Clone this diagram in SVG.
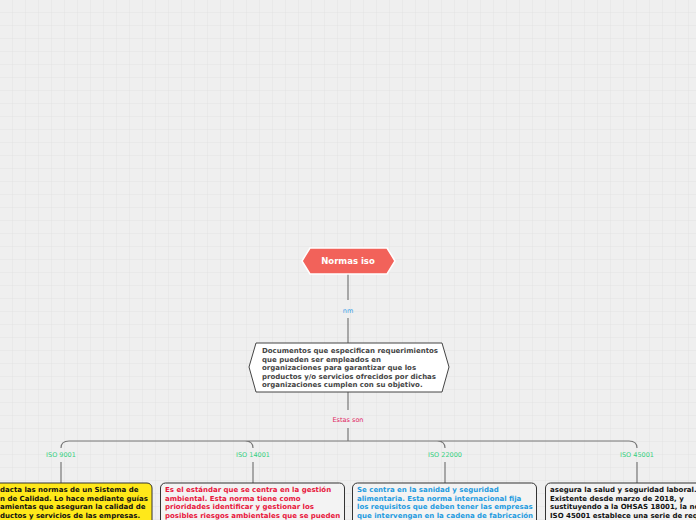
<svg xmlns="http://www.w3.org/2000/svg" width="696" height="520" viewBox="0 0 696 520">
<defs>
<pattern id="g" width="13" height="13" patternUnits="userSpaceOnUse"><path d="M13 0V13H0" fill="none" stroke="#e2e2e2" stroke-width="1"/></pattern>
<style>
.t{font-family:"DejaVu Sans",Verdana,sans-serif;font-weight:bold;font-size:7px}
.l{font-family:"DejaVu Sans",Verdana,sans-serif;font-size:6.5px;text-anchor:middle}
.c{fill:none;stroke:#777;stroke-width:1.2}
.b{stroke:#333;stroke-width:1}
</style>
</defs>
<rect width="696" height="520" fill="#efefef"/>
<rect width="696" height="520" fill="url(#g)"/>
<g id="connectors">
<path class="c" d="M348 274V300M348 318V343M348 392V410M348 428V441" stroke="#555"/>
<path class="c" d="M348 441H69Q61 441 61 448M348 441H245Q253 441 253 448M348 441H437Q445 441 445 448M348 441H629Q637 441 637 448" stroke="#aaa"/>
<path class="c" d="M61 462V483M253 462V483M445 462V483M637 462V483"/>
<text class="l" x="348" y="313" fill="#3aa0e8">nm</text>
<text class="l" x="348" y="422" fill="#e0245e">Estas son</text>
<text class="l" x="61" y="457" fill="#35d07f">ISO 9001</text>
<text class="l" x="253" y="457" fill="#35d07f">ISO 14001</text>
<text class="l" x="445" y="457" fill="#35d07f">ISO 22000</text>
<text class="l" x="637" y="457" fill="#35d07f">ISO 45001</text>
</g>
<g id="root">
<polygon points="310,248 387,248 395,261 387,274 310,274 302,261" fill="#f2625a" stroke="#fff" stroke-width="1.5"/>
<text x="348" y="264" text-anchor="middle" font-family="DejaVu Sans,sans-serif" font-weight="bold" font-size="8.5" fill="#fff">Normas iso</text>
</g>
<g id="doc">
<polygon points="256,343 442,343 449,367 442,392 256,392 249,367" fill="#fff" stroke="#444" stroke-width="1"/>
<text class="t" fill="#444"><tspan x="262" y="353">Documentos que especifican requerimientos</tspan><tspan x="262" y="361.5">que pueden ser empleados en</tspan><tspan x="262" y="370">organizaciones para garantizar que los</tspan><tspan x="262" y="378.5">productos y/o servicios ofrecidos por dichas</tspan><tspan x="262" y="387">organizaciones cumplen con su objetivo.</tspan></text>
</g>
<g id="iso9001">
<rect class="b" x="-40" y="483" width="192" height="50" rx="5" fill="#ffe81a"/>
<text class="t" fill="#111"><tspan x="0" y="492">dacta las normas de un Sistema de</tspan><tspan x="0" y="500.5">n de Calidad. Lo hace mediante guías</tspan><tspan x="0" y="509">amientas que aseguran la calidad de</tspan><tspan x="0" y="517.5">ductos y servicios de las empresas.</tspan></text>
</g>
<g id="iso14001">
<rect class="b" x="160.5" y="483" width="184" height="50" rx="5" fill="#f3f3f3"/>
<text class="t" fill="#e8163c"><tspan x="165" y="492">Es el estándar que se centra en la gestión</tspan><tspan x="165" y="500.5">ambiental. Esta norma tiene como</tspan><tspan x="165" y="509">prioridades identificar y gestionar los</tspan><tspan x="165" y="517.5">posibles riesgos ambientales que se pueden</tspan></text>
</g>
<g id="iso22000">
<rect class="b" x="352.5" y="483" width="184" height="50" rx="5" fill="#f3f3f3"/>
<text class="t" fill="#1e9be0"><tspan x="357" y="492">Se centra en la sanidad y seguridad</tspan><tspan x="357" y="500.5">alimentaria. Esta norma internacional fija</tspan><tspan x="357" y="509">los requisitos que deben tener las empresas</tspan><tspan x="357" y="517.5">que intervengan en la cadena de fabricación</tspan></text>
</g>
<g id="iso45001">
<rect class="b" x="545.5" y="483" width="190" height="50" rx="5" fill="#f3f3f3"/>
<text class="t" fill="#111"><tspan x="550" y="492">asegura la salud y seguridad laboral.</tspan><tspan x="550" y="500.5">Existente desde marzo de 2018, y</tspan><tspan x="550" y="509">sustituyendo a la OHSAS 18001, la norma</tspan><tspan x="550" y="517.5">ISO 45001 establece una serie de requisitos</tspan></text>
</g>
</svg>
